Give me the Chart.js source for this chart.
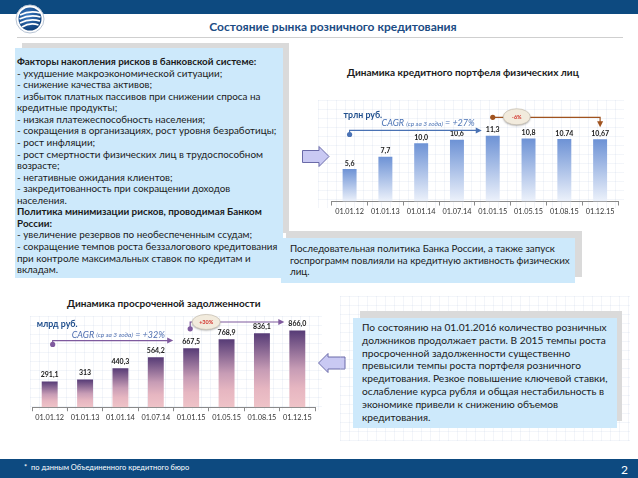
<!DOCTYPE html>
<html>
<head>
<meta charset="utf-8">
<script src="https://cdn.jsdelivr.net/npm/chart.js@4.4.1/dist/chart.umd.min.js"></script>
<style>
  body {
    margin: 0;
    width: 638px;
    height: 478px;
    position: relative;
    overflow: hidden;
    background: #fff;
    font-family: Lato, "Open Sans", sans-serif;
  }
  .abs { position: absolute; }
  .band { left: 0; width: 638px; background: #0d4a80; }
  .title {
    left: 0; width: 666px; top: 19px;
    text-align: center;
    font-size: 12px; font-weight: bold; color: #1b4c84;
  }
  .rule { left: 17px; width: 606px; top: 37px; height: 1px; background: #cfcfcf; }
  .shadow { background: #dadada; }
  .box {
    background: #cde9fb;
    color: #1a1a1a;
    white-space: nowrap;
    box-sizing: border-box;
  }
  .paper {
    background-image:
      linear-gradient(to right, rgba(200, 210, 230, 0.22) 1px, transparent 1px),
      linear-gradient(to bottom, rgba(200, 210, 230, 0.22) 1px, transparent 1px);
    background-size: 9px 9px;
  }
  .chart-title { font-size: 10px; font-weight: bold; color: #1a1a1a; white-space: nowrap; }
  .foot { left: 24px; top: 463px; font-size: 7.5px; color: #fff; white-space: nowrap; }
  .page { left: 621px; top: 462px; font-size: 12px; color: #fff; }
</style>
</head>
<body>

<div class="abs band" style="top:0;height:14px"></div>
<svg class="abs" style="left:15px;top:4px" width="30" height="30" viewBox="0 0 30 30">
  <defs>
    <radialGradient id="ball" cx="40%" cy="35%" r="70%">
      <stop offset="0" stop-color="#3d7cc4"/>
      <stop offset="1" stop-color="#0b3b74"/>
    </radialGradient>
  </defs>
  <circle cx="15" cy="15" r="14" fill="#fff" stroke="#b8c4d4" stroke-width="1"/>
  <circle cx="15" cy="15" r="11.5" fill="url(#ball)"/>
  <path d="M5 11 Q15 6 25 9 M4.5 15 Q15 10 25.5 13 M5 19 Q15 14 25 17 M7 23 Q15 18 23.5 21" stroke="#fff" stroke-width="1.6" fill="none"/>
</svg>
<div class="abs title">Состояние рынка розничного кредитования</div>
<div class="abs rule"></div>

<!-- left text block -->
<div class="abs shadow" style="left:22px;top:43px;width:267px;height:190px"></div>
<div class="abs box" style="left:15px;top:48px;width:268px;height:230px;padding:8px 0 0 2px;font-size:9.9px;line-height:11.56px">
<b>Факторы накопления рисков в банковской системе:</b><br>
- ухудшение макроэкономической ситуации;<br>
- снижение качества активов;<br>
- избыток платных пассивов при снижении спроса на<br>
кредитные продукты;<br>
- низкая платежеспособность населения;<br>
- сокращения в организациях, рост уровня безработицы;<br>
- рост инфляции;<br>
- рост смертности физических лиц в трудоспособном<br>
возрасте;<br>
- негативные ожидания клиентов;<br>
- закредитованность при сокращении доходов<br>
населения.<br>
<b>Политика минимизации рисков, проводимая Банком<br>
России:</b><br>
- увеличение резервов по необеспеченным ссудам;<br>
- сокращение темпов роста беззалогового кредитования<br>
при контроле максимальных ставок по кредитам и<br>
вкладам.
</div>

<!-- top chart -->
<div class="abs chart-title" style="left:347px;top:66px">Динамика кредитного портфеля физических лиц</div>
<div class="abs paper" style="left:318px;top:100px;width:306px;height:108px"></div>
<div class="abs" style="left:318px;top:92px;width:310px;height:132px">
  <canvas id="portfolioChart"></canvas>
</div>
<svg class="abs" style="left:301px;top:145px" width="30" height="24">
  <path d="M1.5 5.5 H18 V1.5 L28 11.5 L18 21.5 V17.5 H1.5 Z" fill="#c9c9f3" stroke="#6a6aa8" stroke-width="1"/>
</svg>

<div class="abs shadow" style="left:286px;top:231px;width:296px;height:46px"></div>
<div class="abs box" style="left:281px;top:238px;width:294px;height:45px;padding:5px 0 0 9px;font-size:9.8px;line-height:11.6px">
Последовательная политика Банка России, а также запуск<br>
госпрограмм повлияли на кредитную активность физических<br>
лиц.
</div>

<!-- bottom chart -->
<div class="abs chart-title" style="left:67px;top:297px">Динамика просроченной задолженности</div>
<div class="abs paper" style="left:30px;top:316px;width:292px;height:94px"></div>
<div class="abs" style="left:18px;top:312px;width:305px;height:115px">
  <canvas id="overdueChart"></canvas>
</div>
<svg class="abs" style="left:317px;top:352px" width="30" height="23">
  <path d="M1.5 11 L11 1.5 V5 H28 V17 H11 V20.5 Z" fill="#c9c9f3" stroke="#6a6aa8" stroke-width="1"/>
</svg>

<div class="abs paper" style="left:340px;top:296px;width:290px;height:145px"></div>
<div class="abs shadow" style="left:360px;top:311px;width:262px;height:110px"></div>
<div class="abs box" style="left:353px;top:318px;width:264px;height:110px;padding:3px 0 0 9px;font-size:10.2px;line-height:12.8px">
По состоянию на 01.01.2016 количество розничных<br>
должников продолжает расти. В 2015 темпы роста<br>
просроченной задолженности существенно<br>
превысили темпы роста портфеля розничного<br>
кредитования. Резкое повышение ключевой ставки,<br>
ослабление курса рубля и общая нестабильность в<br>
экономике привели к снижению объемов<br>
кредитования.
</div>

<div class="abs band" style="top:459px;height:19px"></div>
<div class="abs foot">*&nbsp; по данным Объединенного кредитного бюро</div>
<div class="abs page">2</div>

<script>
// dates are the same for both charts
let dates = ["01.01.12", "01.01.13", "01.01.14", "01.07.14", "01.01.15", "01.05.15", "01.08.15", "01.12.15"];

// portfolio, trln rub
let portfolioValues = [5.6, 7.7, 10.0, 10.6, 11.3, 10.8, 10.74, 10.67];
let portfolioLabels = ["5,6", "7,7", "10,0", "10,6", "11,3", "10,8", "10.74", "10,67"];

// overdue debt, bln rub
let overdueValues = [291.1, 313, 440.3, 564.2, 667.5, 768.9, 836.1, 866.0];
let overdueLabels = ["291,1", "313", "440,3", "564,2", "667,5", "768,9", "836,1", "866,0"];

const fontFamily = "Lato, 'Open Sans', sans-serif";

function barGradient(stops) {
  return (ctx) => {
    let chart = ctx.chart;
    if (!chart.chartArea || ctx.type !== "data") return stops[0][1];
    let top = chart.scales.y.getPixelForValue(ctx.raw);
    let g = chart.ctx.createLinearGradient(0, top, 0, chart.chartArea.bottom);
    stops.forEach((s) => g.addColorStop(s[0], s[1]));
    return g;
  };
}

// numbers above the bars
function valueLabels(labels, gap) {
  return {
    id: "valueLabels",
    afterDatasetsDraw(chart) {
      let c = chart.ctx;
      let meta = chart.getDatasetMeta(0);
      c.save();
      c.font = "bold 7px " + fontFamily;
      c.fillStyle = "#1a1a1a";
      c.textAlign = "center";
      c.textBaseline = "bottom";
      meta.data.forEach((bar, i) => {
        c.fillText(labels[i], bar.x, bar.y - gap);
      });
      c.restore();
    },
  };
}

function dot(c, x, y, color) {
  c.beginPath();
  c.arc(x, y, 2.6, 0, Math.PI * 2);
  c.fillStyle = color;
  c.fill();
}

function arrowHead(c, x, y, dir, color) {
  // dir: "right" or "down"
  c.beginPath();
  if (dir === "right") {
    c.moveTo(x, y);
    c.lineTo(x - 6, y - 3);
    c.lineTo(x - 6, y + 3);
  } else {
    c.moveTo(x, y);
    c.lineTo(x - 3, y - 6);
    c.lineTo(x + 3, y - 6);
  }
  c.closePath();
  c.fillStyle = color;
  c.fill();
}

function badge(c, x, y, rx, ry, text) {
  c.save();
  c.shadowColor = "rgba(0,0,0,0.35)";
  c.shadowBlur = 2;
  c.shadowOffsetY = 1;
  c.beginPath();
  c.ellipse(x, y, rx, ry, 0, 0, Math.PI * 2);
  c.fillStyle = "#f2ebdd";
  c.fill();
  c.restore();
  c.beginPath();
  c.ellipse(x, y, rx, ry, 0, 0, Math.PI * 2);
  c.strokeStyle = "#c9c1b4";
  c.lineWidth = 0.8;
  c.stroke();
  c.font = "bold 5.5px " + fontFamily;
  c.fillStyle = "#d2302a";
  c.textAlign = "center";
  c.textBaseline = "middle";
  c.fillText(text, x, y + 0.5);
}

// "CAGR (ср за 3 года) = +27%" with the small middle part
function cagrText(c, x, y, rate, color) {
  let parts = [
    ["italic 9px " + fontFamily, "CAGR "],
    ["italic 6.5px " + fontFamily, "(ср за 3 года)"],
    ["italic 9px " + fontFamily, " = " + rate],
  ];
  c.fillStyle = color;
  c.textAlign = "left";
  c.textBaseline = "middle";
  parts.forEach((p) => {
    c.font = p[0];
    c.fillText(p[1], x, y);
    x += c.measureText(p[1]).width;
  });
}

function unitText(c, x, y, text) {
  c.font = "bold 8.8px " + fontFamily;
  c.fillStyle = "#1f4e8c";
  c.textAlign = "left";
  c.textBaseline = "middle";
  c.fillText(text, x, y);
}

let portfolioNotes = {
  id: "portfolioNotes",
  afterDraw(chart) {
    let c = chart.ctx;
    let xs = chart.scales.x;
    let ys = chart.scales.y;
    let blue = "#4a72b4";
    let brown = "#a0531f";
    c.save();
    unitText(c, xs.getPixelForValue(0) - 6, ys.getPixelForValue(14.9), "трлн руб.");

    // cagr arrow
    let y0 = ys.getPixelForValue(11.5);
    let y1 = ys.getPixelForValue(12.2);
    let x0 = xs.getPixelForValue(0);
    let x1 = xs.getPixelForValue(4) - 11;
    c.strokeStyle = blue;
    c.lineWidth = 1.2;
    c.beginPath();
    c.moveTo(x0, y0);
    c.lineTo(x0, y1);
    c.lineTo(x1 - 4, y1);
    c.stroke();
    dot(c, x0, y0, blue);
    arrowHead(c, x1, y1, "right", blue);
    cagrText(c, x0 + 32, ys.getPixelForValue(13.4), "+27%", blue);

    // -6% arrow
    let xa = xs.getPixelForValue(4);
    let xb = xs.getPixelForValue(7);
    let ya = ys.getPixelForValue(14.45);
    let yb = ys.getPixelForValue(12.75);
    c.strokeStyle = brown;
    c.beginPath();
    c.moveTo(xa, ya);
    c.lineTo(xb, ya);
    c.lineTo(xb, yb - 4);
    c.stroke();
    dot(c, xa, ya, brown);
    arrowHead(c, xb, yb, "down", brown);
    badge(c, xa + 24, ya - 0.5, 13.5, 8, "-6%");
    c.restore();
  },
};

let overdueNotes = {
  id: "overdueNotes",
  afterDraw(chart) {
    let c = chart.ctx;
    let xs = chart.scales.x;
    let ys = chart.scales.y;
    let purple = "#7f5a9e";
    let blue = "#4f6fb0";
    c.save();
    unitText(c, xs.getPixelForValue(0) - 13, ys.getPixelForValue(941), "млрд руб.");

    // cagr arrow
    let x0 = xs.getPixelForValue(0) + 3;
    let x1 = xs.getPixelForValue(4) - 18;
    let y0 = ys.getPixelForValue(709);
    let y1 = ys.getPixelForValue(753);
    c.strokeStyle = purple;
    c.lineWidth = 1.2;
    c.beginPath();
    c.moveTo(x0, y0);
    c.lineTo(x0, y1);
    c.lineTo(x1 - 4, y1);
    c.stroke();
    dot(c, x0, y0, purple);
    arrowHead(c, x1, y1, "right", purple);
    cagrText(c, x0 + 19, ys.getPixelForValue(820), "+32%", blue);

    // +30% arrow
    let xa = xs.getPixelForValue(4) - 1;
    let xb = xs.getPixelForValue(7) - 13;
    let ya = ys.getPixelForValue(886);
    let yb = ys.getPixelForValue(963);
    c.beginPath();
    c.moveTo(xa, ya);
    c.lineTo(xa, yb);
    c.lineTo(xb - 4, yb);
    c.stroke();
    dot(c, xa, ya, purple);
    arrowHead(c, xb, yb, "right", purple);
    badge(c, xa + 16, yb, 14, 7.5, "+30%");
    c.restore();
  },
};

function axisOptions(max) {
  return {
    x: {
      grid: {
        display: true,
        drawOnChartArea: false,
        drawTicks: true,
        tickLength: 4,
        color: "#8a8a8a",
        offset: true,
      },
      border: { color: "#8a8a8a" },
      ticks: {
        color: "#333",
        padding: 2,
        font: { family: fontFamily, size: 7.3 },
        maxRotation: 0,
        autoSkip: false,
      },
    },
    y: { display: false, min: 0, max: max },
  };
}

let portfolioChart = new Chart(document.getElementById("portfolioChart"), {
  type: "bar",
  data: {
    labels: dates,
    datasets: [
      {
        data: portfolioValues,
        backgroundColor: barGradient([
          [0, "#6d92d5"],
          [1, "#edf2fb"],
        ]),
        barPercentage: 0.39,
        categoryPercentage: 1,
      },
    ],
  },
  options: {
    responsive: true,
    maintainAspectRatio: false,
    animation: false,
    layout: { padding: { left: 13.7, right: 10, top: 4.6, bottom: 5.7 } },
    plugins: { legend: { display: false }, tooltip: { enabled: false } },
    scales: axisOptions(18),
  },
  plugins: [valueLabels(portfolioLabels, 2), portfolioNotes],
});

let overdueChart = new Chart(document.getElementById("overdueChart"), {
  type: "bar",
  data: {
    labels: dates,
    datasets: [
      {
        data: overdueValues,
        backgroundColor: barGradient([
          [0, "#563b76"],
          [0.5, "#c79cb5"],
          [0.75, "#e6b6c1"],
          [1, "#efc3c8"],
        ]),
        barPercentage: 0.45,
        categoryPercentage: 1,
      },
    ],
  },
  options: {
    responsive: true,
    maintainAspectRatio: false,
    animation: false,
    layout: { padding: { left: 14, right: 8, top: 6.7, bottom: 3 } },
    plugins: { legend: { display: false }, tooltip: { enabled: false } },
    scales: axisOptions(1000),
  },
  plugins: [valueLabels(overdueLabels, 3), overdueNotes],
});
</script>
</body>
</html>
